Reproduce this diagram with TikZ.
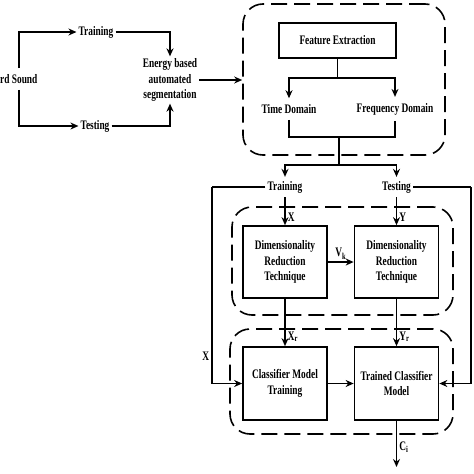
\documentclass[tikz,border=0pt]{standalone}
\usepackage{fontspec}
\setmainfont{Liberation Serif}[FakeStretch=0.72]
\usetikzlibrary{arrows.meta}
\newlength{\du}
\setlength{\du}{1pt}
\definecolor{dialinecolor}{rgb}{0.000000, 0.000000, 0.000000}
\tikzset{
  lbl/.style={font=\fontsize{13}{15.5}\selectfont\bfseries, text=dialinecolor, inner sep=2pt, align=center},
  blockbox/.style={lbl, draw=dialinecolor, line width=1.7pt, minimum width=84\du, minimum height=72\du},
  groupbox/.style={draw=dialinecolor, line width=1.6pt, dash pattern=on 16pt off 7pt, rounded corners=20pt, inner sep=0pt},
  conn/.style={draw=dialinecolor, line width=1.7pt, -{Stealth[length=8pt,width=7pt]}},
  plainline/.style={draw=dialinecolor, line width=1.7pt}
}
\begin{document}
\begin{tikzpicture}[yscale=-1]
\useasboundingbox (0\du,0\du) rectangle (474\du,474\du);
% input side
\node[lbl, anchor=west, inner xsep=0pt, inner ysep=6pt] (sound) at (0\du,79\du) {rd Sound};
\node[lbl] (trainA) at (96\du,32\du) {Training};
\node[lbl] (testA) at (95\du,126\du) {Testing};
\node[lbl] (segment) at (170\du,80\du) {Energy based\\automated\\segmentation};
\draw[conn] (sound.north) |- (trainA.west);
\draw[conn] (sound.south) |- (testA.west);
\draw[conn] (trainA.east) -| (segment.north);
\draw[conn] (testA.east) -| (segment.south);
% feature extraction group
\node[groupbox, minimum width=202\du, minimum height=151\du] (grpfeat) at (344\du,79.5\du) {};
\draw[conn] (segment.east) -- (segment.east -| grpfeat.west);
\node[blockbox, minimum width=117\du, minimum height=35\du] (featext) at (337.5\du,40.5\du) {Feature Extraction};
\node[lbl, inner ysep=6pt] (timedom) at (289\du,109\du) {Time Domain};
\node[lbl, inner ysep=6pt] (freqdom) at (395\du,109\du) {Frequency Domain};
\coordinate (fesplit) at (337.5\du,78\du);
\draw[plainline] (featext.south) -- (fesplit);
\draw[conn] (fesplit) -| (timedom.north);
\draw[conn] (fesplit) -| (freqdom.north);
\coordinate (fdmerge) at (339\du,137\du);
\coordinate (tsplit) at (339\du,165\du);
\draw[plainline] (timedom.south) |- (fdmerge);
\draw[plainline] (freqdom.south) |- (fdmerge);
\draw[plainline] (fdmerge) -- (tsplit);
% training / testing split
\node[lbl, inner ysep=4pt] (trainB) at (285\du,187\du) {Training};
\node[lbl, inner ysep=4pt] (testB) at (396.5\du,187\du) {Testing};
\draw[conn] (tsplit) -| (trainB.north);
\draw[conn] (tsplit) -| (testB.north);
% dimensionality reduction group
\node[groupbox, minimum width=221\du, minimum height=108\du] (grpdim) at (342.5\du,261\du) {};
\node[blockbox] (dimtrain) at (285\du,262\du) {Dimensionality\\Reduction\\Technique};
\node[blockbox] (dimtest) at (396.5\du,262\du) {Dimensionality\\Reduction\\Technique};
\draw[conn] (trainB.south) -- node[lbl, anchor=west, pos=0.7] {X} (dimtrain.north);
\draw[conn] (testB.south) -- node[lbl, anchor=west, pos=0.7] {Y} (dimtest.north);
\draw[conn] (dimtrain) -- node[lbl, above] {V\textsubscript{k}} (dimtest);
% classifier group
\node[groupbox, minimum width=223\du, minimum height=105\du] (grpclass) at (341.5\du,381.5\du) {};
\node[blockbox, minimum height=73\du] (clstrain) at (285\du,383.5\du) {Classifier Model\\Training};
\node[blockbox, minimum height=73\du] (clstest) at (396.5\du,383.5\du) {Trained Classifier\\Model};
\draw[conn] (dimtrain) -- node[lbl, anchor=west, pos=0.8] {X\textsubscript{r}} (clstrain);
\draw[conn] (dimtest) -- node[lbl, anchor=west, pos=0.8] {Y\textsubscript{r}} (clstest);
\draw[conn] (clstrain) -- (clstest);
\coordinate (xloop) at (212\du,187\du);
\coordinate (yloop) at (471\du,187\du);
\draw[plainline] (trainB.west) -- (xloop);
\draw[conn] (xloop) |- node[lbl, anchor=east, pos=0.43] {X} (clstrain.west);
\draw[plainline] (testB.east) -- (yloop);
\draw[conn] (yloop) |- (clstest.east);
\coordinate (clsout) at (396.5\du,467\du);
\draw[conn] (clstest.south) -- node[lbl, anchor=west, pos=0.57] {C\textsubscript{i}} (clsout);
\end{tikzpicture}
\end{document}
